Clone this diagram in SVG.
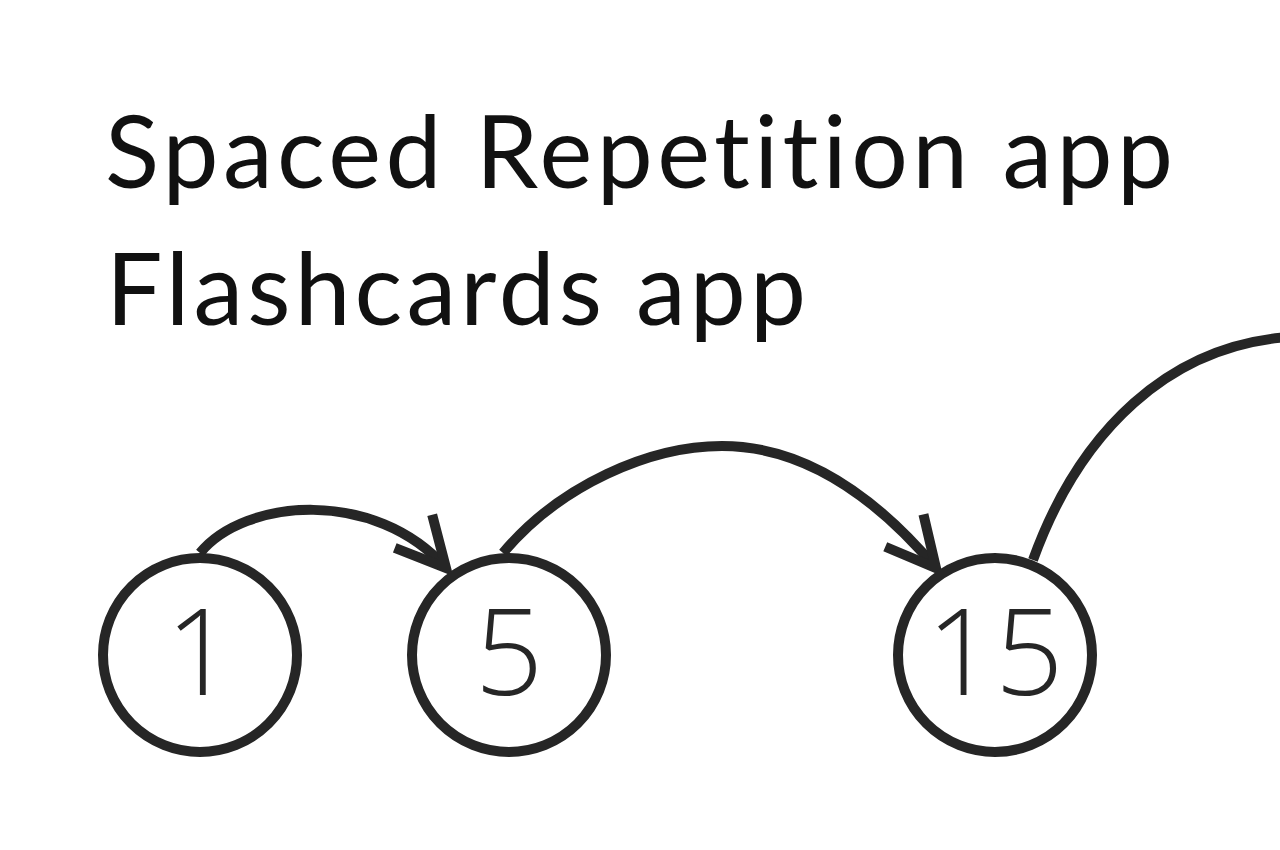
<svg xmlns="http://www.w3.org/2000/svg" width="1280" height="850" viewBox="0 0 1280 850">
<style>
.title{font-family:Lato,"Open Sans","Liberation Sans",sans-serif;font-weight:400;font-size:100px;fill:#111111;font-variant-ligatures:none}
.node circle{fill:#ffffff;stroke:#262626;stroke-width:10}
.node text{font-family:"Open Sans",Lato,"Liberation Sans",sans-serif;font-weight:300;font-size:120px;fill:#262626;text-anchor:middle}
.edge{fill:none;stroke:#262626;stroke-width:10}
</style>
<defs>
<marker id="arr" markerUnits="userSpaceOnUse" viewBox="-60 -30 70 60" refX="0" refY="0" markerWidth="70" markerHeight="60" orient="auto">
<path d="M-49,-25 L0,0 L-49,25" fill="none" stroke="#262626" stroke-width="10"/>
</marker>
</defs>
<rect width="1280" height="850" fill="#ffffff"/>
<text class="title" x="105" y="188" textLength="1068" lengthAdjust="spacing">Spaced Repetition app</text>
<text class="title" x="106" y="325" textLength="700" lengthAdjust="spacing">Flashcards app</text>
<g id="connectors">
<path class="edge" d="M200,553 C245,498 375,488 446,568" marker-end="url(#arr)"/>
<path class="edge" d="M503,553 C560,485 650,446 722,446 C800,446 870,490 936,568" marker-end="url(#arr)"/>
<path class="edge" d="M1033,560 C1080,430 1170,345 1290,337"/>
</g>
<g id="node-1" class="node"><circle cx="200" cy="655" r="97"/><text x="200" y="695">1</text></g>
<g id="node-5" class="node"><circle cx="509" cy="655" r="97"/><text x="509" y="695">5</text></g>
<g id="node-15" class="node"><circle cx="995" cy="655" r="97"/><text x="995" y="695">15</text></g>
</svg>
